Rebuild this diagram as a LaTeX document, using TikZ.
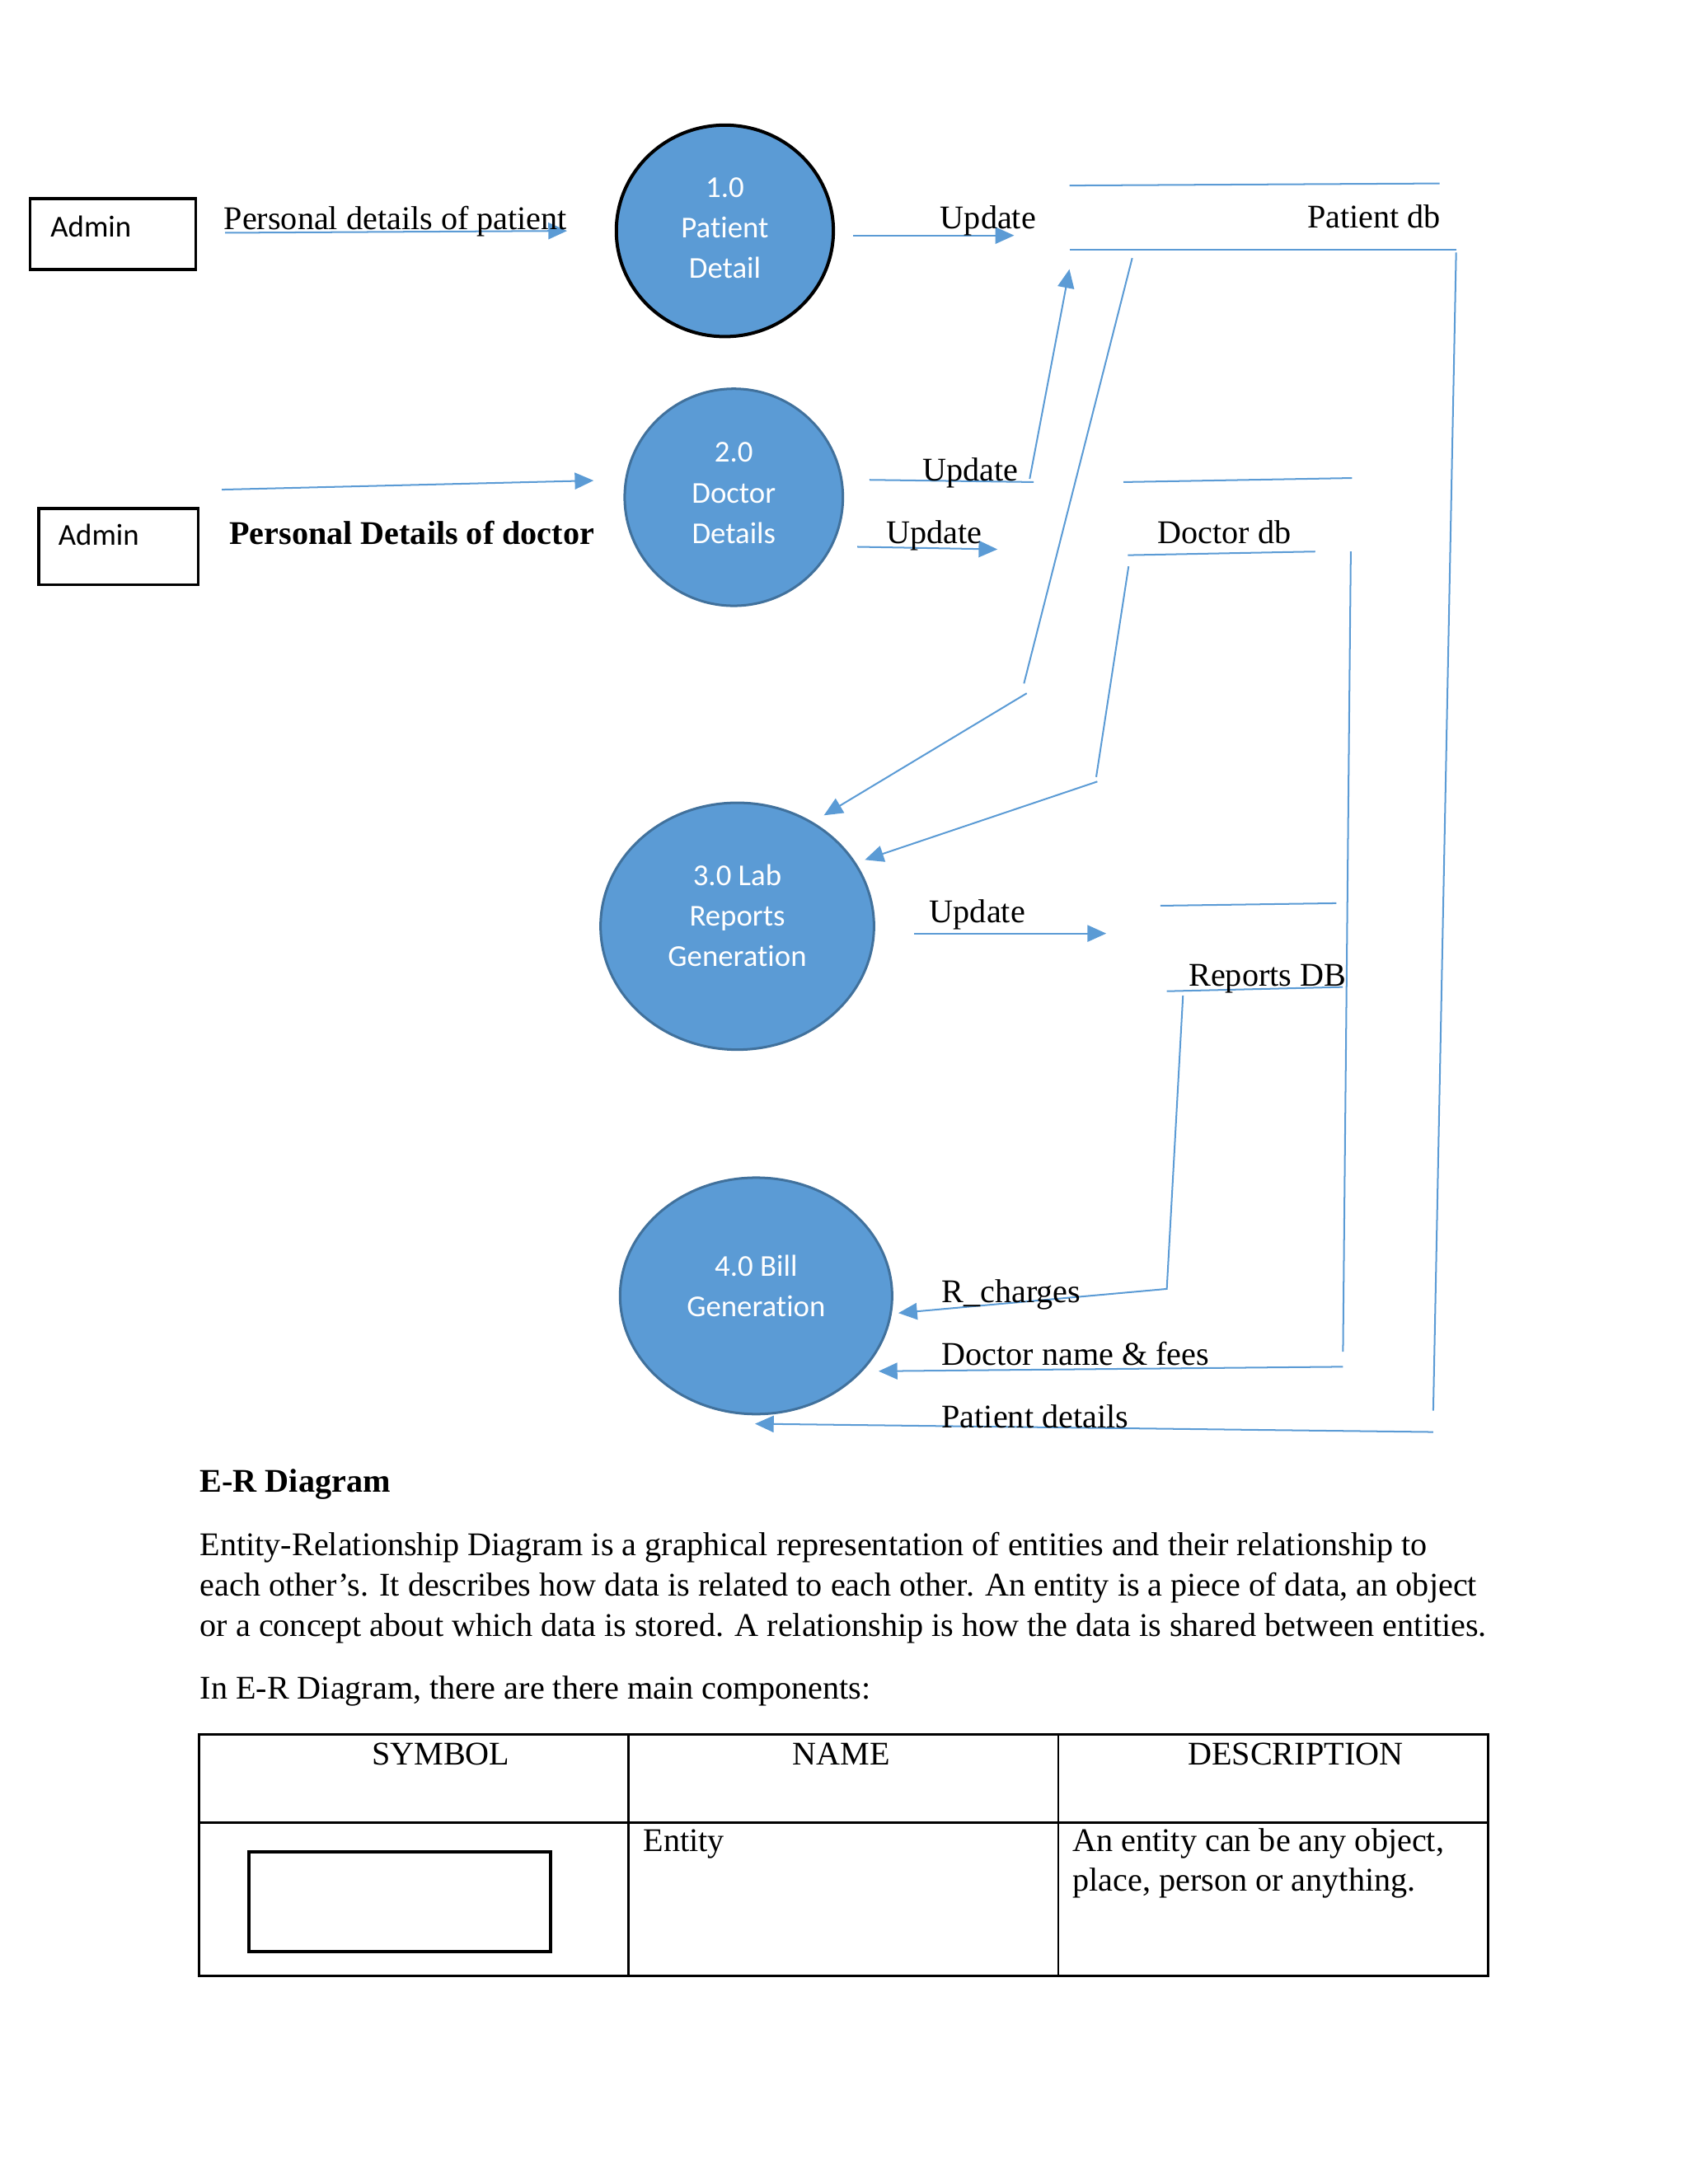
\documentclass[tikz,border=0pt]{standalone}
\usepackage{fontspec}
\setmainfont{Liberation Serif}
\newfontfamily\calfont[Ligatures={NoCommon}]{Carlito}
\usetikzlibrary{shapes.geometric,arrows.meta}
\definecolor{dfdblue}{HTML}{5B9BD5}
\definecolor{dfdedge}{HTML}{41719C}
\begin{document}
\begin{tikzpicture}[x=0.5058pt,y=-0.5058pt,
  lbl/.style={font=\fontsize{12}{14.4}\selectfont, inner sep=0pt, anchor=base west},
  lblc/.style={font=\fontsize{12}{14.4}\selectfont, inner sep=0pt, anchor=base},
  blbl/.style={font=\fontsize{12}{14.4}\selectfont\bfseries, inner sep=0pt, anchor=base west},
  ptext/.style={font=\calfont\fontsize{11}{13}\selectfont, text=white, anchor=base, inner sep=0pt},
  atext/.style={font=\calfont\fontsize{11}{13}\selectfont, anchor=base west, inner sep=0pt},
  proc/.style={ellipse, fill=dfdblue, draw=dfdedge, line width=0.9pt, inner sep=0pt},
  extent/.style={draw=black, line width=1.1pt, rectangle, inner sep=0pt},
  flow/.style={draw=dfdblue, line width=0.6pt},
  flowa/.style={draw=dfdblue, line width=0.6pt, -{Triangle[length=6.8pt,width=6pt,fill=dfdblue]}},
  tbl/.style={draw=black, line width=0.9pt}
]
\useasboundingbox (0,0) rectangle (1210,1565.7);

% external entities
\node[extent, minimum width=60.1pt, minimum height=25.5pt, anchor=north west] (admin1) at (20.5,141.5) {};
\node[atext] (admin1t) at (35.9,170) {Admin};
\node[extent, minimum width=57.9pt, minimum height=27.6pt, anchor=north west] (admin2) at (26.5,363.5) {};
\node[atext] (admin2t) at (41.5,391) {Admin};

% processes
\node[proc, draw=black, line width=1.2pt, minimum width=78.70pt, minimum height=76.68pt] (p1) at (519.6,165.5) {};
\node[ptext] (p1a) at (519.6,141.4) {1.0};
\node[ptext] (p1b) at (519.6,170.4) {Patient};
\node[ptext] (p1c) at (519.6,199.4) {Detail};

\node[proc, minimum width=79.11pt, minimum height=78.70pt] (p2) at (526,356.5) {};
\node[ptext] (p2a) at (526,331) {2.0};
\node[ptext] (p2b) at (526,360.5) {Doctor};
\node[ptext] (p2c) at (526,389.5) {Details};

\node[proc, minimum width=99.14pt, minimum height=89.53pt] (p3) at (528.5,664) {};
\node[ptext] (p3a) at (528.5,634.7) {3.0 Lab};
\node[ptext] (p3b) at (528.5,663.7) {Reports};
\node[ptext] (p3c) at (528.5,692.7) {Generation};

\node[proc, minimum width=98.63pt, minimum height=85.73pt] (p4) at (542,929) {};
\node[ptext] (p4a) at (542,914.8) {4.0 Bill};
\node[ptext] (p4b) at (542,943.8) {Generation};

% data stores
\coordinate (pdbTL) at (766.6,133);   \coordinate (pdbTR) at (1032,131.5);
\coordinate (pdbBL) at (766.6,179);   \coordinate (pdbBR) at (1043.8,179);
\draw[flow] (pdbTL) -- (pdbTR);
\draw[flow] (pdbBL) -- (pdbBR);
\node[lbl, anchor=base east] (pdbt) at (1033,163.5) {Patient db};

\coordinate (ddbTL) at (805.3,345.6); \coordinate (ddbTR) at (969.2,342.7);
\coordinate (ddbBL) at (808.5,398);   \coordinate (ddbBR) at (942.8,395.4);
\draw[flow] (ddbTL) -- (ddbTR);
\draw[flow] (ddbBL) -- (ddbBR);
\node[lbl] (ddbt) at (829.6,389.6) {Doctor db};

\coordinate (rdbTL) at (831.8,649.3); \coordinate (rdbTR) at (958,647.5);
\coordinate (rdbBL) at (836.4,710.6); \coordinate (rdbBR) at (962.5,707.6);
\draw[flow] (rdbTL) -- (rdbTR);
\draw[flow] (rdbBL) -- (rdbBR);
\node[lbl] (rdbt) at (851.8,707) {Reports DB};

% flows
\coordinate (f1s) at (161.3,166.9); \coordinate (f1e) at (406.5,165.5);
\draw[flowa] (f1s) -- (f1e);
\node[lbl] (f1t) at (160.2,164.5) {Personal details of patient};

\coordinate (f2s) at (611.4,168.8); \coordinate (f2e) at (727,168.8);
\draw[flowa] (f2s) -- (f2e);
\node[lbl] (f2t) at (673.7,163.7) {Update};

\coordinate (f3s) at (159,351); \coordinate (f3e) at (425.5,344.5);
\draw[flowa] (f3s) -- (f3e);
\node[blbl] (f3t) at (164,390) {Personal Details of doctor};

\coordinate (f4a) at (623.2,344); \coordinate (f4b) at (740.9,345.6);
\coordinate (f4c) at (738.1,343.3); \coordinate (f4e) at (766.6,193);
\draw[flow] (f4a) -- (f4b);
\draw[flowa] (f4c) -- (f4e);
\node[lbl] (f4t) at (661.1,344.7) {Update};

\coordinate (f5s) at (614.5,392); \coordinate (f5e) at (715,393.8);
\draw[flowa] (f5s) -- (f5e);
\node[lbl] (f5t) at (635,389.6) {Update};

\coordinate (f6a) at (811.6,185); \coordinate (f6b) at (734,490);
\coordinate (f6c) at (736,497);   \coordinate (f6e) at (590.6,584.5);
\draw[flow] (f6a) -- (f6b);
\draw[flowa] (f6c) -- (f6e);

\coordinate (f7a) at (809,406);   \coordinate (f7b) at (785.8,557);
\coordinate (f7c) at (786.6,560.3); \coordinate (f7e) at (620,616.4);
\draw[flow] (f7a) -- (f7b);
\draw[flowa] (f7c) -- (f7e);

\coordinate (f8s) at (655.5,669.2); \coordinate (f8e) at (793,669.2);
\draw[flowa] (f8s) -- (f8e);
\node[lbl] (f8t) at (666,661.7) {Update};

\coordinate (f9a) at (848,713.7); \coordinate (f9b) at (836.4,924);
\coordinate (f9e) at (644,941.3);
\draw[flowa] (f9a) -- (f9b) -- (f9e);
\node[lbl] (f9t) at (674.7,933.5) {R\_charges};

\coordinate (f10a) at (968.3,395.4); \coordinate (f10b) at (962.7,969);
\coordinate (f10c) at (962.7,979.8); \coordinate (f10e) at (629.8,983);
\draw[flow] (f10a) -- (f10b);
\draw[flowa] (f10c) -- (f10e);
\node[lbl] (f10t) at (674.7,978.8) {Doctor name \& fees};

\coordinate (f11a) at (1043.8,181); \coordinate (f11b) at (1027.4,1011.3);
\coordinate (f11c) at (1027.4,1026.6); \coordinate (f11e) at (541.2,1020.7);
\draw[flow] (f11a) -- (f11b);
\draw[flowa] (f11c) -- (f11e);
\node[lbl] (f11t) at (674.7,1023.5) {Patient details};

% text section
\node[blbl] (erh) at (143,1069.5) {E-R Diagram};
\node[lbl] (par1) at (143,1115) {Entity-Relationship Diagram is a graphical representation of entities and their relationship to};
\node[lbl] (par2) at (143,1144) {each other’s. It describes how data is related to each other. An entity is a piece of data, an object};
\node[lbl] (par3) at (143,1173) {or a concept about which data is stored. A relationship is how the data is shared between entities.};
\node[lbl] (par4) at (143,1218.2) {In E-R Diagram, there are there main components:};

% table
\draw[tbl] (142.5,1243.5) rectangle (1066.5,1416.5);
\draw[tbl] (142.5,1306.5) -- (1066.5,1306.5);
\draw[tbl, line width=0.7pt] (450.5,1243.5) -- (450.5,1416.5);
\draw[tbl, line width=0.7pt] (758.8,1243.5) -- (758.8,1416.5);
\node[lblc] (th1) at (315.9,1265.5) {SYMBOL};
\node[lblc] (th2) at (602.9,1265.5) {NAME};
\node[lblc] (th3) at (928.7,1265.5) {DESCRIPTION};
\node[extent, line width=1.2pt, minimum width=109.2pt, minimum height=36.2pt, anchor=north west] (entsym) at (177.5,1326.5) {};
\node[lbl] (tn1) at (460.9,1327.5) {Entity};
\node[lbl] (td1) at (768.6,1327.5) {An entity can be any object,};
\node[lbl] (td2) at (768.6,1355.7) {place, person or anything.};
\end{tikzpicture}
\end{document}
